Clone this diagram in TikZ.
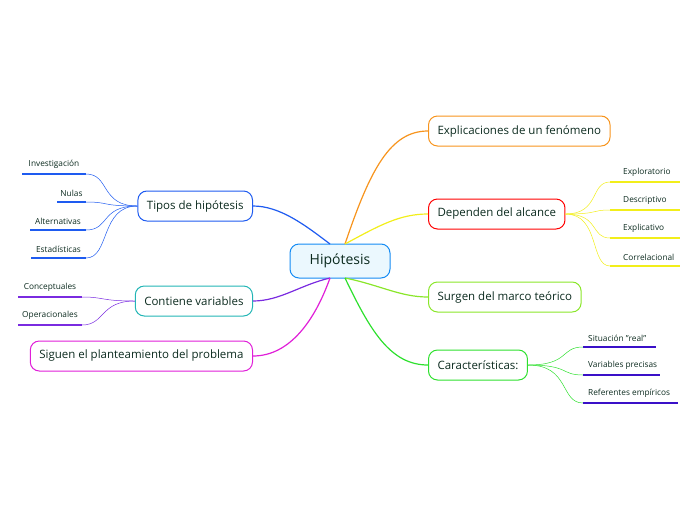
\documentclass[tikz,border=0pt]{standalone}
\usepackage{fontspec}
\setmainfont{Open Sans}
\usetikzlibrary{calc}
\definecolor{Orng}{HTML}{F7941D}
\definecolor{Yell}{HTML}{F2EE1A}
\definecolor{Lime}{HTML}{8AE62A}
\definecolor{Grn}{HTML}{2EE02E}
\definecolor{Blu}{HTML}{1E5BF0}
\definecolor{Purp}{HTML}{7A2BE0}
\definecolor{Magn}{HTML}{E01FD8}
\definecolor{Teal}{HTML}{22B5B5}
\definecolor{Dpurp}{HTML}{3A10C8}
\definecolor{Ink}{HTML}{0B2A1E}
\tikzset{
  topic/.style={draw, rounded corners=9pt, line width=1pt, minimum height=30pt, inner xsep=9pt, font=\fontsize{11.5}{13}\selectfont, text=Ink},
  leaf/.style={font=\fontsize{8.3}{10}\selectfont, inner sep=1pt, text=Ink},
  link/.style={line width=1.2pt},
  thin link/.style={line width=0.5pt},
}
\begin{document}
\begin{tikzpicture}[x=1pt, y=-1pt]
 \useasboundingbox (0,0) rectangle (696,520);

 %%%%%%%%%% Central node %%%%%%%%%%
 \node[topic, draw=Blu!70!cyan, fill=cyan!8, minimum width=100pt, minimum height=34pt, font=\fontsize{14}{16}\selectfont] (hip) at (340,261) {Hipótesis};

 %%%%%%%%%% Main topics %%%%%%%%%%
 \node[topic, draw=Orng, anchor=west] (expl) at (428,131) {Explicaciones de un fenómeno};
 \node[topic, draw=red, anchor=west] (dep) at (428,214) {Dependen del alcance};
 \node[topic, draw=Lime, anchor=west] (surg) at (428,297) {Surgen del marco teórico};
 \node[topic, draw=Grn, anchor=west] (car) at (428,365) {Características:};
 \node[topic, draw=Blu, anchor=east] (tipos) at (253,206) {Tipos de hipótesis};
 \node[topic, draw=Teal, anchor=east] (cont) at (253,301) {Contiene variables};
 \node[topic, draw=Magn, anchor=east] (sig) at (253,356) {Siguen el planteamiento del problema};

 \coordinate (hipT) at (345,244);
 \coordinate (hipB) at (345,278);
 \coordinate (hipL) at (330,244);
 \coordinate (hipLB) at (330,278);

 \draw[link, Orng] (hipT) .. controls (370,170) and (390,131) .. (expl.west);
 \draw[link, Yell] (hipT) .. controls (380,225) and (400,214) .. (dep.west);
 \draw[link, Lime] (hipB) .. controls (380,285) and (400,297) .. (surg.west);
 \draw[link, Grn] (hipB) .. controls (370,330) and (390,365) .. (car.west);
 \draw[link, Blu] (hipL) .. controls (305,225) and (280,206) .. (tipos.east);
 \draw[link, Purp] (hipLB) .. controls (300,285) and (280,301) .. (cont.east);
 \draw[link, Magn] (hipLB) .. controls (315,320) and (290,356) .. (sig.east);

 %%%%%%%%%% Leaves %%%%%%%%%%
 \foreach \name/\txt/\y/\xa in {inv/Investigación/174/22, nul/Nulas/202/57, alt/Alternativas/230/30, est/Estadísticas/258/31}{
   \coordinate (\name a) at (\xa,\y);
   \coordinate (\name b) at (86,\y);
   \node[leaf, anchor=south] (\name) at ($(\name a)!0.5!(\name b)+(0,-4)$) {\txt};
   \draw[link, Blu, line width=1.5pt] (\name a) -- (\name b);
   \draw[thin link, Blu] (\name b) .. controls (110,\y) and (100,206) .. (tipos.west);
 }
 \foreach \name/\txt/\y in {conc/Conceptuales/297, oper/Operacionales/325}{
   \coordinate (\name a) at (18,\y);
   \coordinate (\name b) at (82,\y);
   \node[leaf, anchor=south] (\name) at ($(\name a)!0.5!(\name b)+(0,-4)$) {\txt};
   \draw[link, Purp, line width=1.5pt] (\name a) -- (\name b);
   \draw[thin link, Purp] (\name b) .. controls (105,\y) and (100,301) .. (cont.west);
 }
 \foreach \name/\txt/\y in {exp/Exploratorio/182, des/Descriptivo/210, expc/Explicativo/238, cor/Correlacional/266}{
   \coordinate (\name a) at (610,\y);
   \coordinate (\name b) at (680,\y);
   \node[leaf, anchor=south west] (\name) at ($(\name a)+(12,-4)$) {\txt};
   \draw[link, Yell, line width=1.5pt] (\name a) -- (\name b);
   \draw[thin link, Yell] (\name a) .. controls (590,\y) and (600,214) .. (dep.east);
 }
 \foreach \name/\txt/\y/\xb in {sit/{Situación "real"}/347/656, var/Variables precisas/375/660, ref/Referentes empíricos/403/678}{
   \coordinate (\name a) at (583,\y);
   \coordinate (\name b) at (\xb,\y);
   \node[leaf, anchor=south west] (\name) at ($(\name a)+(4,-4)$) {\txt};
   \draw[link, Dpurp, line width=1.5pt] (\name a) -- (\name b);
   \draw[thin link, Grn] (\name a) .. controls (560,\y) and (570,365) .. (car.east);
 }
\end{tikzpicture}
\end{document}
